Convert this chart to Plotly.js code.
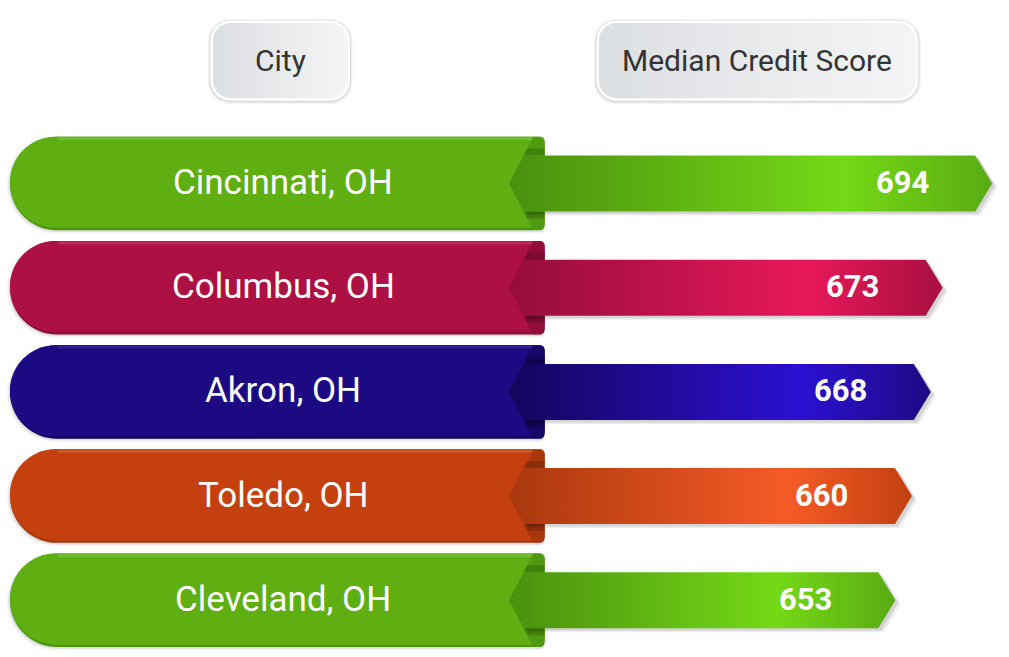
<!DOCTYPE html>
<html><head><meta charset="utf-8">
<script src="https://cdn.plot.ly/plotly-3.0.1.min.js"></script>
<style>html,body{margin:0;padding:0;background:#fff;}#chart{width:1009px;height:657px;}</style>
</head><body><div id="chart"></div>
<script>
// ---- data ----
const cities = ["Cincinnati, OH", "Columbus, OH", "Akron, OH", "Toledo, OH", "Cleveland, OH"];
const scores = [694, 673, 668, 660, 653];
const headers = ["City", "Median Credit Score"];

// ---- styles ----
const GREEN = {pill:'#5fae12', hi:'#80c846', lo:'#4c930e', fold:'#4f9a10', foldDark:'#3f810b', g:['#4a900e','#74d916','#5aab12']};
const palette = [
  GREEN,
  {pill:'#ad1043', hi:'#c9466f', lo:'#900c37', fold:'#930d39', foldDark:'#7a0a2e', g:['#940d3a','#e8185a','#a80f40']},
  {pill:'#1b0a82', hi:'#44349f', lo:'#13066a', fold:'#150767', foldDark:'#0e0450', g:['#12065c','#2c10d2','#1c0a84']},
  {pill:'#c4400f', hi:'#d86c42', lo:'#a7360c', fold:'#a9370c', foldDark:'#8e2d09', g:['#aa380e','#f55b26','#c2400f']},
  GREEN
];

const W = 1009, H = 657;
const X0 = 273.9, X1 = 701.1;          // value axis range
const PXU = W / (X1 - X0);             // px per score unit
const ROW = 104.2, ROW0 = 183.5;       // px per row, first row centre
const Y_TOP = -ROW0 / ROW, Y_BOT = Y_TOP + H / ROW;
const k = 0.5523;

const xd = px => X0 + px / PXU;
function P(xpx, i, dy) { return (xpx / W).toFixed(5) + ',' + (i + dy / ROW).toFixed(5); }
function pillPath(i, l, r, hh, cr, dy0) {
  dy0 = dy0 || 0;
  const R = hh, t = -hh + dy0, b = hh + dy0;
  return 'M' + P(l + R, i, t) + ' L' + P(r - cr, i, t) + ' Q' + P(r, i, t) + ' ' + P(r, i, t + cr) +
    ' L' + P(r, i, b - cr) + ' Q' + P(r, i, b) + ' ' + P(r - cr, i, b) + ' L' + P(l + R, i, b) +
    ' C' + P(l + R - k * R, i, b) + ' ' + P(l, i, dy0 + k * R) + ' ' + P(l, i, dy0) +
    ' C' + P(l, i, dy0 - k * R) + ' ' + P(l + R - k * R, i, t) + ' ' + P(l + R, i, t) + ' Z';
}
function poly(pts, i) { return 'M' + pts.map(p => P(p[0], i, p[1])).join(' L') + ' Z'; }
function Qp(x, y) { return (x / W).toFixed(5) + ',' + (1 - y / H).toFixed(5); }
function rr(x0, y0, x1, y1, r) {
  return 'M' + Qp(x0 + r, y0) + ' L' + Qp(x1 - r, y0) + ' C' + Qp(x1 - r + k * r, y0) + ' ' + Qp(x1, y0 + r - k * r) + ' ' + Qp(x1, y0 + r) +
    ' L' + Qp(x1, y1 - r) + ' C' + Qp(x1, y1 - r + k * r) + ' ' + Qp(x1 - r + k * r, y1) + ' ' + Qp(x1 - r, y1) +
    ' L' + Qp(x0 + r, y1) + ' C' + Qp(x0 + r - k * r, y1) + ' ' + Qp(x0, y1 - r + k * r) + ' ' + Qp(x0, y1 - r) +
    ' L' + Qp(x0, y0 + r) + ' C' + Qp(x0, y0 + r - k * r) + ' ' + Qp(x0 + r - k * r, y0) + ' ' + Qp(x0 + r, y0) + ' Z';
}
function rrPts(x0, y0, x1, y1, r) {
  const xs = [], ys = [], n = 10;
  const corners = [[x1 - r, y0 + r, -90], [x1 - r, y1 - r, 0], [x0 + r, y1 - r, 90], [x0 + r, y0 + r, 180]];
  corners.forEach(c => { for (let j = 0; j <= n; j++) { const a = (c[2] + 90 * j / n) * Math.PI / 180; xs.push(c[0] + r * Math.cos(a)); ys.push(c[1] + r * Math.sin(a)); } });
  xs.push(xs[0]); ys.push(ys[0]);
  return {xs, ys};
}

const shapes = [], traces = [], annotations = [];

// header pills
const headerBoxes = [[210.5, 20.5, 350, 100.7], [596.5, 20.5, 918.3, 100.7]];
headers.forEach((h, j) => {
  const b = headerBoxes[j];
  shapes.push({type:'path', xref:'paper', yref:'paper', layer:'below', path: rr(b[0]-2.5, b[1]-1.5, b[2]+2.5, b[3]+3.5, 22), fillcolor:'rgba(0,0,0,0.05)', line:{width:0}});
  shapes.push({type:'path', xref:'paper', yref:'paper', layer:'below', path: rr(b[0]-1, b[1]-0.5, b[2]+1, b[3]+1.5, 21), fillcolor:'#d6d8da', line:{width:0}});
  shapes.push({type:'path', xref:'paper', yref:'paper', layer:'below', path: rr(b[0], b[1], b[2], b[3], 20), fillcolor:'#ffffff', line:{width:0}});
  const p = rrPts(b[0] + 2.5, b[1] + 2.5, b[2] - 2.5, b[3] - 2.5, 17.5);
  traces.push({type:'scatter', xaxis:'x2', yaxis:'y2', x:p.xs, y:p.ys, mode:'lines', line:{width:0}, fill:'toself',
    fillgradient:{type:'horizontal', colorscale:[[0,'#dcdfe2'],[1,'#f4f5f6']]}, hoverinfo:'skip', showlegend:false});
  annotations.push({xref:'paper', yref:'paper', x:(b[0] + b[2]) / 2 / W, y:1 - ((b[1] + b[3]) / 2) / H, text:h, showarrow:false,
    xanchor:'center', yanchor:'middle', font:{family:'Roboto', size:30, color:'#333333'}});
});

// rows
cities.forEach((c, i) => {
  const pal = palette[i];
  const L = 10, R = 544.5, HH = 46.75;
  // pill shadow
  shapes.push({type:'path', xref:'paper', yref:'y', layer:'below', path: pillPath(i, L - 3, R, HH + 1.5, 5, 1.5), fillcolor:'rgba(0,0,0,0.05)', line:{width:0}});
  shapes.push({type:'path', xref:'paper', yref:'y', layer:'below', path: pillPath(i, L - 1.5, R, HH + 0.8, 5, 0.8), fillcolor:'rgba(0,0,0,0.08)', line:{width:0}});
  // pill
  shapes.push({type:'path', xref:'paper', yref:'y', layer:'below', path: pillPath(i, L, R, HH, 5), fillcolor:pal.lo, line:{width:0}});
  shapes.push({type:'path', xref:'paper', yref:'y', layer:'below', path: pillPath(i, L, R, HH - 1.2, 5, -1.2), fillcolor:pal.pill, line:{width:0}});
  // top highlight
  shapes.push({type:'path', xref:'paper', yref:'y', layer:'below', path: poly([[58, -HH + 0.5], [536, -HH + 0.5], [536, -HH + 3.5], [58, -HH + 3.5]], i), fillcolor:pal.hi, opacity:0.55, line:{width:0}});
  // folds
  shapes.push({type:'path', xref:'paper', yref:'y', layer:'below', path: poly([[523.6, -28], [533, -HH + 0.3], [540, -HH + 0.3], [R, -HH + 4], [R, -28]], i), fillcolor:pal.fold, line:{width:0}});
  shapes.push({type:'path', xref:'paper', yref:'y', layer:'below', path: poly([[523.6, -28], [527.4, -35], [R, -35], [R, -28]], i), fillcolor:pal.foldDark, line:{width:0}});
  shapes.push({type:'path', xref:'paper', yref:'y', layer:'below', path: poly([[523.6, 28], [533, HH - 0.3], [540, HH - 0.3], [R, HH - 4], [R, 28]], i), fillcolor:pal.fold, line:{width:0}});
  shapes.push({type:'path', xref:'paper', yref:'y', layer:'below', path: poly([[523.6, 28], [527.4, 35], [R, 35], [R, 28]], i), fillcolor:pal.foldDark, line:{width:0}});
  annotations.push({xref:'paper', yref:'y', x:283 / W, y:i, text:c, showarrow:false, xanchor:'center', yanchor:'middle', yshift:1,
    font:{family:'Roboto', size:35, color:'#ffffff'}});
});

// value arrows (drawn from scores through the x axis)
scores.forEach((v, i) => {
  const pal = palette[i];
  const xl = xd(509), xn = xd(523.6), tc = v - 17 / PXU;
  const yt = i - 28 / ROW, yb = i + 28 / ROW;
  const xs = [xl, xn, tc, v, tc, xn, xl], ys = [i, yt, yt, i, yb, yb, i];
  [[5, 4, 0.07], [3, 2.5, 0.1]].forEach(s => {
    traces.push({type:'scatter', x:xs.map(x => x + s[0] / PXU), y:ys.map(y => y + s[1] / ROW), mode:'lines', line:{width:0},
      fill:'toself', fillcolor:'rgba(0,0,0,' + s[2] + ')', hoverinfo:'skip', showlegend:false});
  });
  traces.push({type:'scatter', x:xs, y:ys, mode:'lines', line:{width:0}, fill:'toself',
    fillgradient:{type:'horizontal', colorscale:[[0, pal.g[0]], [0.69, pal.g[1]], [1, pal.g[2]]]},
    hoverinfo:'skip', showlegend:false});
  annotations.push({xref:'x', yref:'y', x:v, y:i, xshift:-90, yshift:1, text:String(v), showarrow:false, xanchor:'center', yanchor:'middle',
    font:{family:'Roboto', size:31, color:'#ffffff', weight:700}});
});

const layout = {
  width: W, height: H, margin:{l:0, r:0, t:0, b:0, pad:0},
  paper_bgcolor:'#ffffff', plot_bgcolor:'#ffffff', showlegend:false,
  xaxis:{range:[X0, X1], visible:false, fixedrange:true},
  yaxis:{range:[Y_BOT, Y_TOP], visible:false, fixedrange:true},
  xaxis2:{range:[0, W], overlaying:'x', visible:false, fixedrange:true},
  yaxis2:{range:[H, 0], overlaying:'y', visible:false, fixedrange:true},
  shapes, annotations
};
Plotly.newPlot('chart', traces, layout, {staticPlot:true, displayModeBar:false});
</script></body></html>
